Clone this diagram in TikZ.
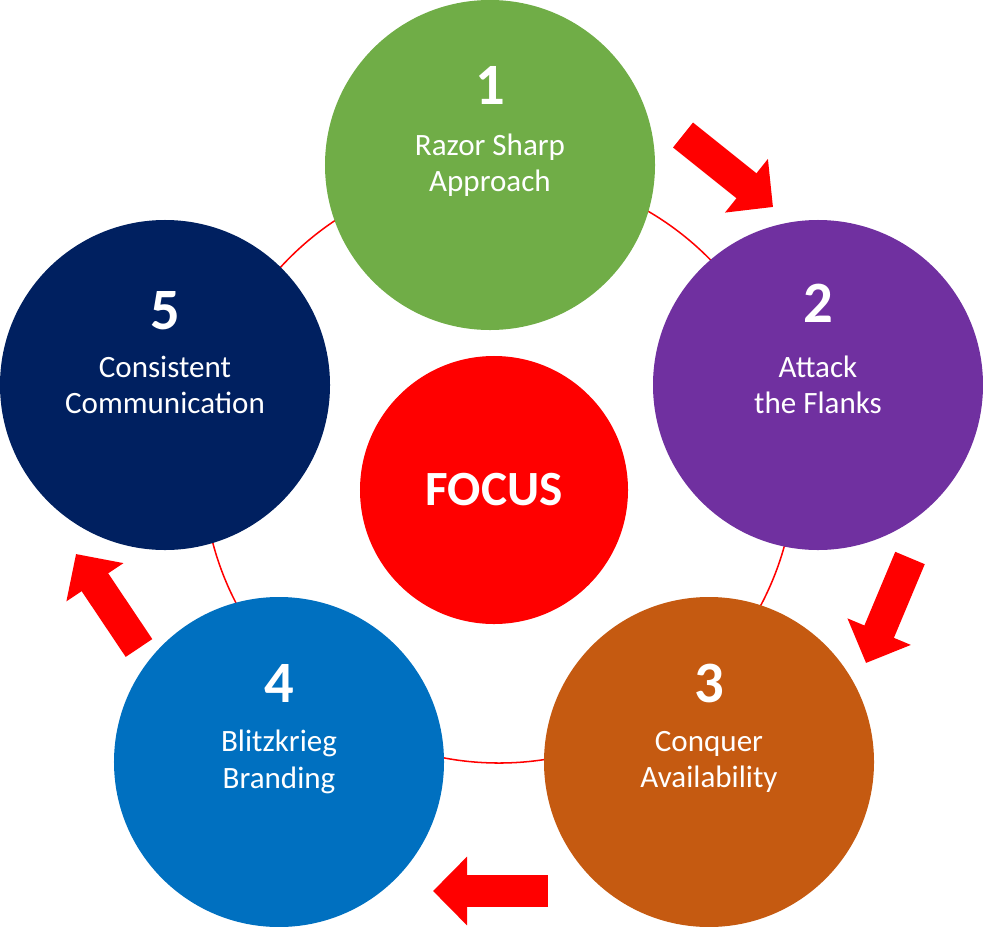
\documentclass[tikz,border=0pt]{standalone}
\usepackage{fontspec}
\setmainfont{Carlito}
\usetikzlibrary{arrows.meta,calc}

\definecolor{razorgreen}{HTML}{70AD47}
\definecolor{flankpurple}{HTML}{7030A0}
\definecolor{conquerorange}{HTML}{C55A11}
\definecolor{blitzblue}{HTML}{0070C0}
\definecolor{commnavy}{HTML}{002060}

\begin{document}
\begin{tikzpicture}[
  x=0.03cm, y=-0.03cm,
  disc/.style={circle, inner sep=0pt, minimum size=9.9cm},
  num/.style={text=white, font=\fontsize{50}{50}\selectfont\bfseries},
  lbl/.style={text=white, align=center, font=\fontsize{26.5}{31}\selectfont},
  ring/.style={red, line width=1.3pt},
  bigarr/.style={red, line width=0.96cm, -{Triangle[length=1.02cm, width=2cm]}}
]
\useasboundingbox (0,0) rectangle (983,927);
\draw[ring] (499,467) circle[radius=8.88cm];

% the five steps
\node[disc, fill=razorgreen]    (c1) at (490,165) {};
\node[disc, fill=flankpurple]   (c2) at (818,385) {};
\node[disc, fill=conquerorange] (c3) at (709,762) {};
\node[disc, fill=blitzblue]     (c4) at (279,762) {};
\node[disc, fill=commnavy]      (c5) at (165,385) {};
\node[disc, fill=red, minimum size=8.04cm, text=white,
      font=\fontsize{42}{42}\selectfont\bfseries] (focus) at (494,490) {FOCUS};

\node[num] (n1) at ($(c1)+(0,-80)$) {1};
\node[num] (n2) at ($(c2)+(0,-82)$) {2};
\node[num] (n3) at ($(c3)+(0,-79)$) {3};
\node[num] (n4) at ($(c4)+(0,-79)$) {4};
\node[num] (n5) at ($(c5)+(0,-74)$) {5};

\node[lbl] (t1) at (c1) {Razor Sharp\\Approach};
\node[lbl] (t2) at (c2) {Attack\\the Flanks};
\node[lbl] (t3) at (c3) {Conquer\\Availability};
\node[lbl] (t4) at (c4) {Blitzkrieg\\Branding};
\node[lbl] (t5) at (c5) {Consistent\\Communication};

% arrows between the steps
\coordinate (a1s) at (683,135);   \coordinate (a1e) at (773,207);
\coordinate (a2s) at (910,558);   \coordinate (a2e) at (866,663);
\coordinate (a3s) at (548,891);   \coordinate (a3e) at (433,891);
\coordinate (a4s) at (139,648);   \coordinate (a4e) at (76,554);
\draw[bigarr] (a1s) -- (a1e);
\draw[bigarr] (a2s) -- (a2e);
\draw[bigarr] (a3s) -- (a3e);
\draw[bigarr] (a4s) -- (a4e);
\end{tikzpicture}
\end{document}
